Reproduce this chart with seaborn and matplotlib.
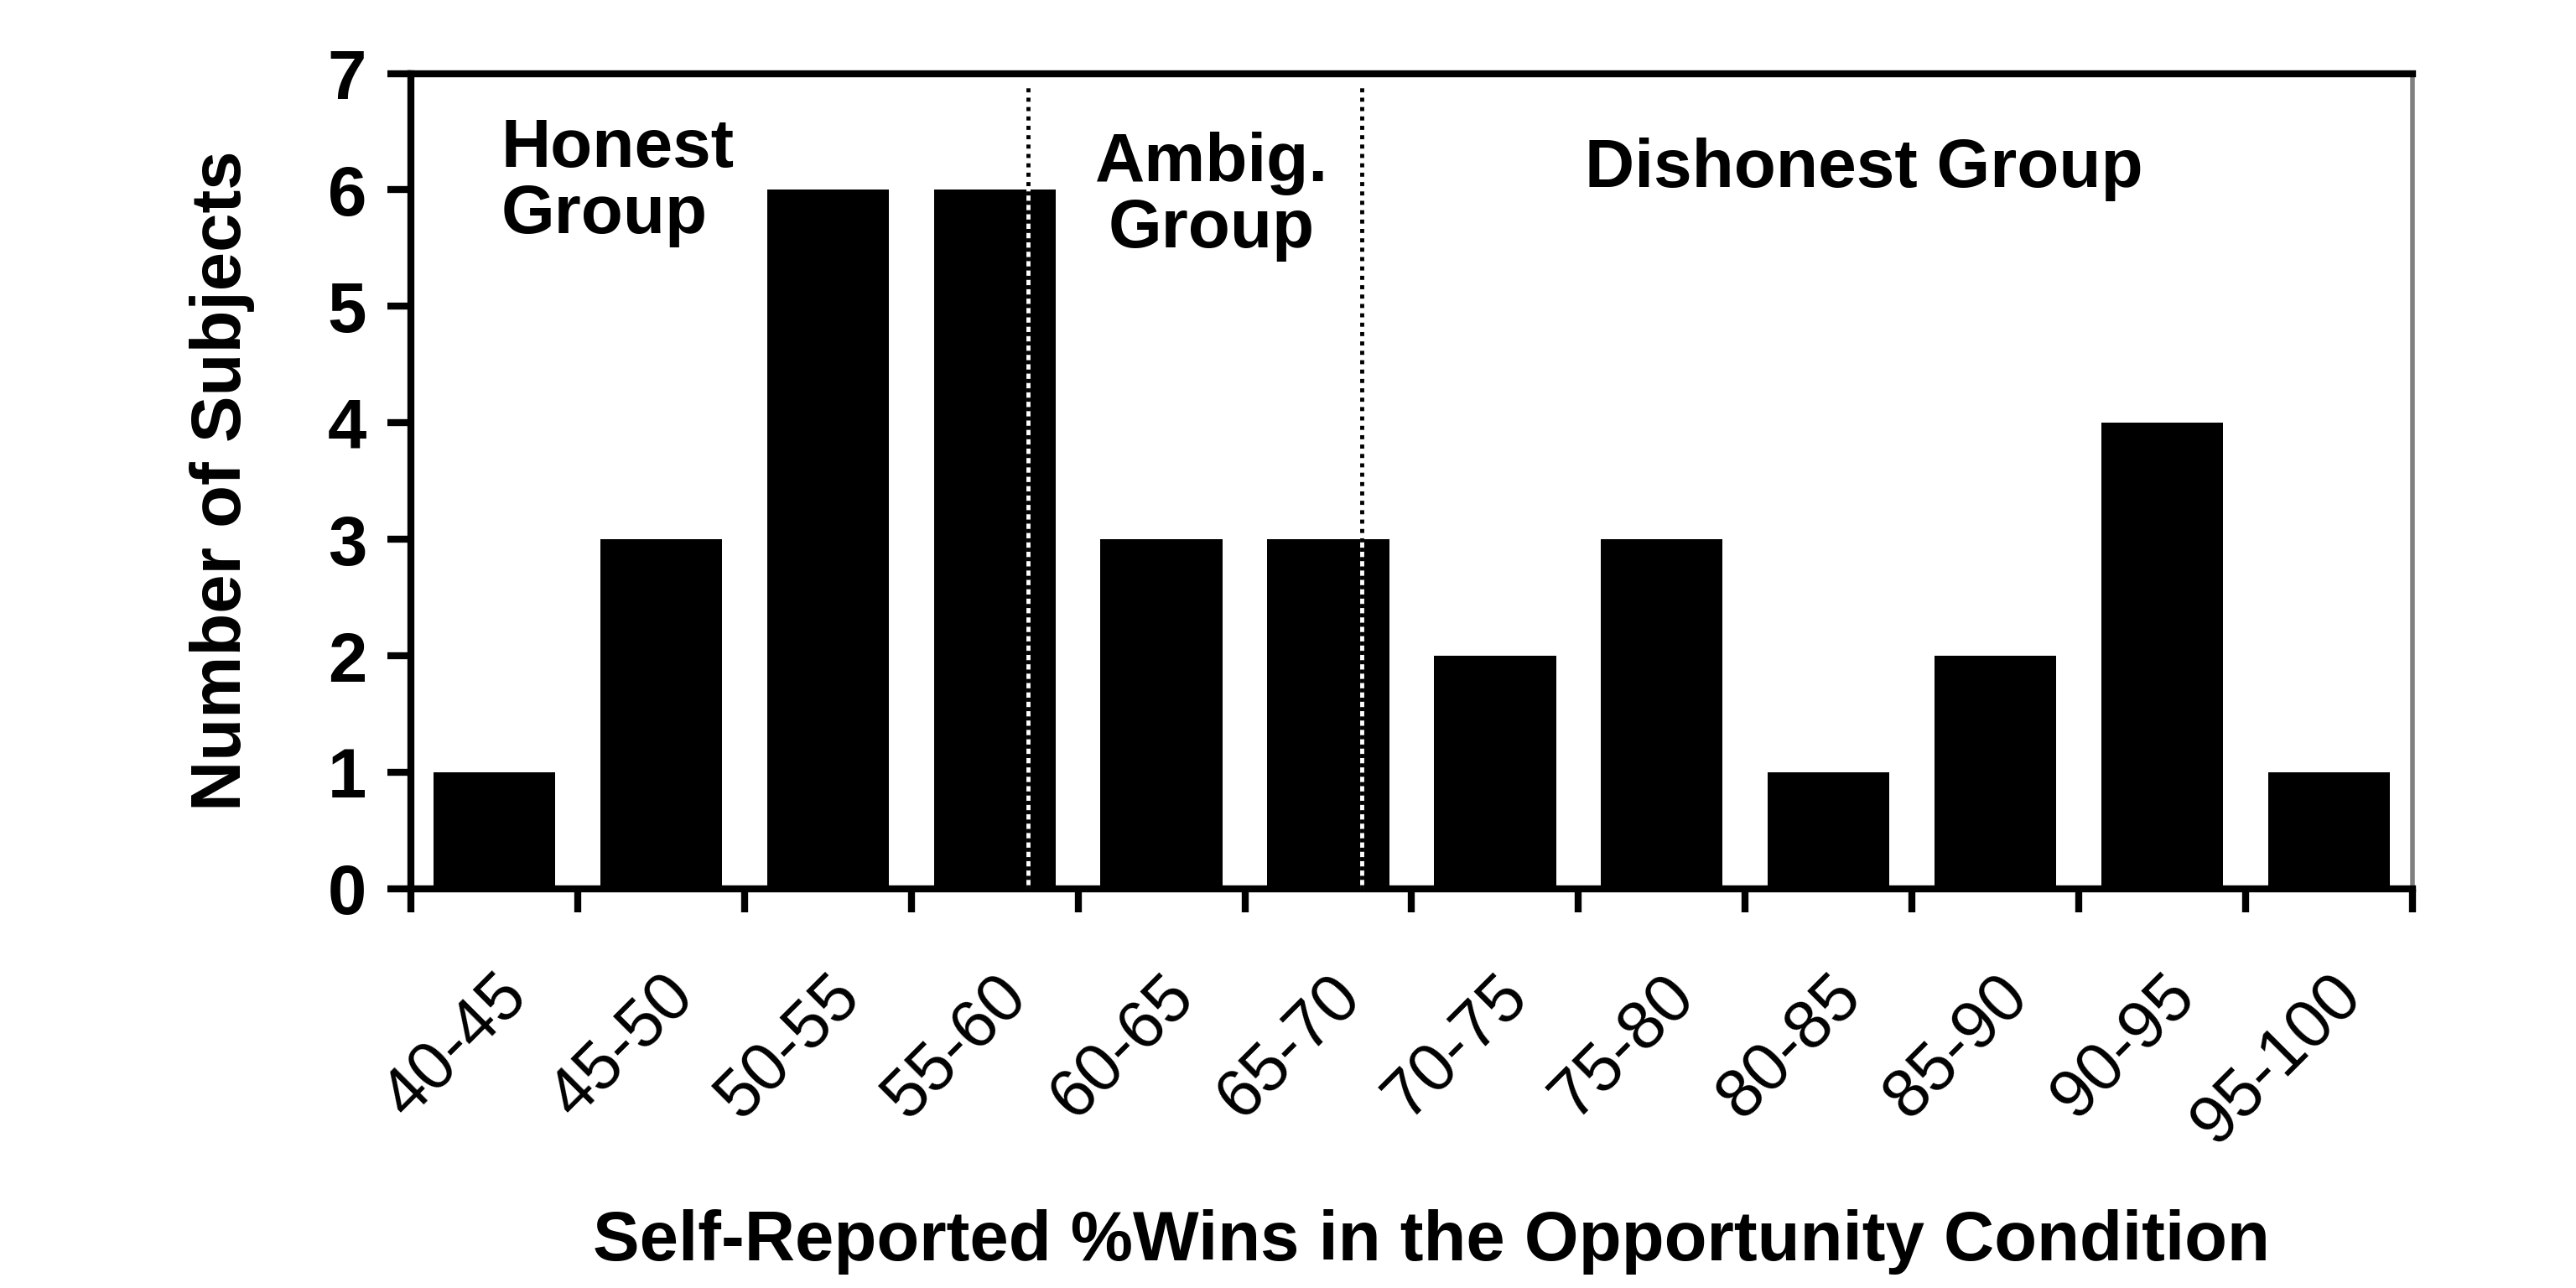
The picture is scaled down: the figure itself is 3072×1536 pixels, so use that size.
import matplotlib
matplotlib.use('Agg')
import matplotlib.pyplot as plt
import seaborn as sns
import pandas as pd
import numpy as np

# histogram of self-reported win rates
bins = ['40-45', '45-50', '50-55', '55-60', '60-65', '65-70',
        '70-75', '75-80', '80-85', '85-90', '90-95', '95-100']
subjects = [1, 3, 6, 6, 3, 3, 2, 3, 1, 2, 4, 1]
group_labels = ['Honest\nGroup', 'Ambig.\nGroup', 'Dishonest Group']
group_cutoffs = [3.2, 5.2]

df = pd.DataFrame({'bin': bins, 'n': subjects})

sns.set_style('white')
plt.rcParams['font.family'] = ['Liberation Sans', 'DejaVu Sans']
plt.rcParams['text.color'] = 'black'
plt.rcParams['axes.labelcolor'] = 'black'
plt.rcParams['xtick.color'] = 'black'
plt.rcParams['ytick.color'] = 'black'

fig = plt.figure(figsize=(30.72, 15.36), dpi=100)
ax = fig.add_axes([0.1595, 0.31, 0.777, 0.633])

sns.barplot(data=df, x='bin', y='n', color='black', saturation=1,
            width=0.73, edgecolor='none', ax=ax)

# group boundaries: white underlay so the dots show inside the bars
for c in group_cutoffs:
    ax.plot([c, c], [0, 6.9], color='white', lw=3.5, zorder=3, solid_capstyle='butt')
    ax.plot([c, c], [0, 6.9], color='black', lw=3.5, ls=(0, (1, 1.3)), zorder=4)

ax.text(0.04, 6.62, group_labels[0], ha='left', va='top', fontsize=59,
        fontweight='bold', linespacing=1.05)
ax.text(4.3, 6.5, group_labels[1], ha='center', va='top', fontsize=59,
        fontweight='bold', linespacing=1.05, multialignment='center')
ax.text(8.21, 6.45, group_labels[2], ha='center', va='top', fontsize=59,
        fontweight='bold')

ax.set_xlim(-0.5, len(bins) - 0.5)
ax.set_ylim(0, 7)
ax.set_yticks(range(0, 8))
ax.set_yticklabels([str(i) for i in range(0, 8)], fontsize=60, fontweight='bold')

ax.set_xticks(range(len(bins)))
ax.set_xticklabels(bins, rotation=45, ha='right', rotation_mode='anchor', fontsize=58)
ax.set_xticks(np.arange(-0.5, len(bins)), minor=True)
ax.tick_params(axis='x', which='major', length=0, pad=64)
ax.tick_params(axis='x', which='minor', length=20, width=6, color='black', direction='out', bottom=True)
ax.tick_params(axis='y', length=20, width=6, color='black', direction='out', left=True, pad=18)

for side in ['left', 'bottom', 'top']:
    ax.spines[side].set_color('black')
    ax.spines[side].set_linewidth(6)
ax.spines['right'].set_color('#808080')
ax.spines['right'].set_linewidth(4)

ax.set_xlabel('Self-Reported %Wins in the Opportunity Condition', fontsize=60, fontweight='bold')
ax.set_ylabel('Number of Subjects', fontsize=60, fontweight='bold')
ax.xaxis.set_label_coords(0.51, -0.393)
ax.yaxis.set_label_coords(-0.078, 0.5)

fig.savefig('out.png', dpi=100)
